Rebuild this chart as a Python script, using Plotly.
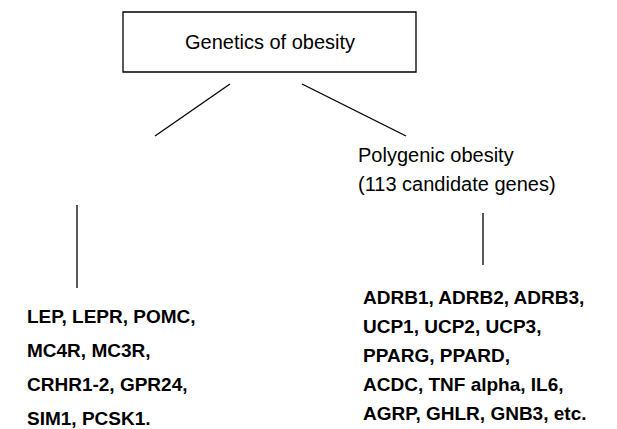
import plotly.graph_objects as go

title = "Genetics of obesity"
left_head = ["Monogenic obesity", "(>173 cases in the word)"]
right_head = ["Polygenic obesity", "(113 candidate genes)"]
left_genes = ["LEP, LEPR, POMC,", "MC4R, MC3R,", "CRHR1-2, GPR24,", "SIM1, PCSK1."]
right_genes = ["ADRB1, ADRB2, ADRB3,", "UCP1, UCP2, UCP3,", "PPARG, PPARD,",
               "ACDC, TNF alpha, IL6,", "AGRP, GHLR, GNB3, etc."]

W, H = 617, 429
O = 8  # page body margin offset
fig = go.Figure()
line = dict(color="black", width=1.3)
shapes = [
    dict(type="rect", x0=123, y0=12, x1=416, y1=72, line=line),
    dict(type="line", x0=230, y0=84, x1=155, y1=136, line=line),
    dict(type="line", x0=302, y0=84, x1=406, y1=136, line=line),
    dict(type="line", x0=77, y0=205, x1=77, y1=288, line=line),
    dict(type="line", x0=483, y0=213, x1=483, y1=265, line=line),
]
for s in shapes:
    s.update(xref="x", yref="y", x0=s["x0"] - O, x1=s["x1"] - O, y0=s["y0"] - O, y1=s["y1"] - O)

font = dict(family="Liberation Sans, Arial", size=20, color="black")
ann = [dict(x=270, y=42, text=title, xanchor="center", yanchor="middle", font=font)]
for i, t in enumerate(left_head):
    ann.append(dict(x=3, y=155 + 29 * i, text=t, xanchor="left", yanchor="middle", font=font))
for i, t in enumerate(right_head):
    ann.append(dict(x=356, y=155 + 29 * i, text=t, xanchor="left", yanchor="middle", font=font))
bfont = dict(family="Liberation Sans, Arial", size=19, color="black")
for i, t in enumerate(left_genes):
    ann.append(dict(x=25, y=316 + 34 * i, text="<b>%s</b>" % t, xanchor="left", yanchor="middle", font=bfont))
for i, t in enumerate(right_genes):
    ann.append(dict(x=361, y=297 + 29 * i, text="<b>%s</b>" % t, xanchor="left", yanchor="middle", font=bfont))
for a in ann:
    a.update(xref="x", yref="y", showarrow=False, x=a["x"] - O, y=a["y"] - O)

fig.update_layout(
    width=W, height=H, margin=dict(l=0, r=0, t=0, b=0),
    paper_bgcolor="white", plot_bgcolor="white",
    xaxis=dict(range=[0, W], visible=False, fixedrange=True),
    yaxis=dict(range=[H, 0], visible=False, fixedrange=True),
    shapes=shapes, annotations=ann, showlegend=False,
)
fig.write_html("out.html")
